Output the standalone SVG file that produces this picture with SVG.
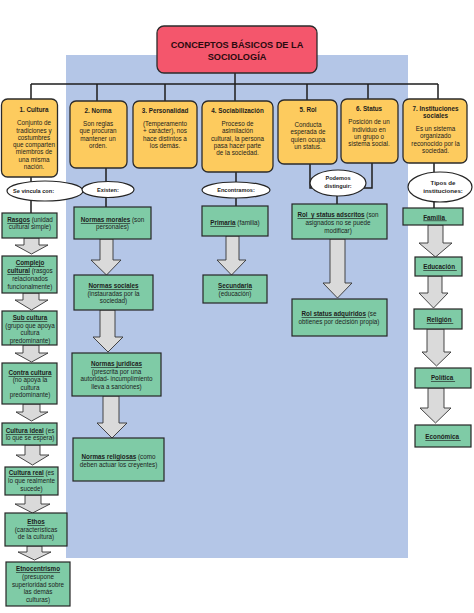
<svg xmlns="http://www.w3.org/2000/svg" width="474" height="613" viewBox="0 0 474 613">
<style>
text{font-family:"Liberation Sans",Arial,sans-serif;fill:#1c1c1c;text-anchor:middle}
.t{font-size:9.2px;font-weight:bold;fill:#2a0a0e}
.h{font-size:6.3px;font-weight:bold}
.b{font-size:6.3px}
.e{font-size:5.6px;font-weight:bold}
.e2{font-size:6.1px;font-weight:bold}
.u{font-weight:bold;text-decoration:underline}
.y{fill:#fdcb5e;stroke:#2b2b2b;stroke-width:1.3}
.g{fill:#7fcba6;stroke:#262626;stroke-width:1.2}
.el{fill:#ffffff;stroke:#262626;stroke-width:1.2}
.ar{fill:#dadada;stroke:#333333;stroke-width:0.9}
.ln{fill:none;stroke:#1e1e1e;stroke-width:1.5}
</style>
<rect x="0" y="0" width="474" height="613" fill="#ffffff"/>
<rect x="66" y="55" width="342" height="503" fill="#b4c6e7"/>

<g id="connectors">
<path class="ln" d="M235,73V84M31,84H438M31,84V99M97,84V101M165,84V101M235,84V101M307,84V100M368,84V99M438,84V99"/>
<path class="ln" d="M31,177V213M106,168V207M236,172V206M310,164V188H372V163M337,196V204M434,163V208"/>
<polygon class="ar" points="24,238 39,238 39,245 48,245 31.5,254 15,245 24,245"/>
<polygon class="ar" points="23,293 39,293 39,300 48,300 31.5,310 15,300 23,300"/>
<polygon class="ar" points="23,345 39,345 39,353 48,353 31.5,362 15,353 23,353"/>
<polygon class="ar" points="23,404 40,404 40,412 48,412 31.5,421 16,412 23,412"/>
<polygon class="ar" points="25,445 40,445 40,455 49,455 32.5,465 16,455 25,455"/>
<polygon class="ar" points="25,495 41,495 41,504 50,504 32.5,513 15,504 25,504"/>
<polygon class="ar" points="27,546 42,546 42,552 51,552 34.5,560 18,552 27,552"/>
<polygon class="ar" points="100,239 113,239 113,260 121,260 106.5,275 91,260 100,260"/>
<polygon class="ar" points="100,310 115,310 115,337 123,337 108,352 93,337 100,337"/>
<polygon class="ar" points="103,396 119,396 119,423 127,423 112,438 97,423 103,423"/>
<polygon class="ar" points="226,236 239,236 239,260 246,260 231.5,275 217,260 226,260"/>
<polygon class="ar" points="330,239 345,239 345,283 352,283 337.5,298 323,283 330,283"/>
<polygon class="ar" points="428,225 443,225 443,243 452,243 435.5,257 419,243 428,243"/>
<polygon class="ar" points="428,276 442,276 442,293 448,293 433.5,308 419,293 428,293"/>
<polygon class="ar" points="427,329 444,329 444,352 451,352 436.5,366 422,352 427,352"/>
<polygon class="ar" points="428,388 444,388 444,408 451,408 435.5,423 420,408 428,408"/>
</g>

<g id="title">
<rect x="157" y="26" width="160" height="47" rx="7" fill="#f4566c" stroke="#2b2b2b" stroke-width="1.3"/>
<text class="t" x="237" y="47.5">CONCEPTOS BÁSICOS DE LA</text>
<text class="t" x="237" y="59.5">SOCIOLOGÍA</text>
</g>

<g id="cultura">
<rect class="y" x="1.5" y="99" width="56" height="78" rx="6"/>
<text class="h" x="34" y="112.2">1. Cultura</text>
<text class="b" x="34" y="125.2">Conjunto de</text>
<text class="b" x="34" y="132.5">tradiciones y</text>
<text class="b" x="34" y="139.8">costumbres</text>
<text class="b" x="34" y="147.1">que comparten</text>
<text class="b" x="34" y="154.4">miembros de</text>
<text class="b" x="34" y="161.7">una misma</text>
<text class="b" x="34" y="169">nación.</text>
</g>
<g id="norma">
<rect class="y" x="70" y="101" width="57" height="67" rx="6"/>
<text class="h" x="98" y="113">2. Norma</text>
<text class="b" x="98" y="126.2">Son reglas</text>
<text class="b" x="98" y="133.4">que procuran</text>
<text class="b" x="98" y="140.6">mantener un</text>
<text class="b" x="98" y="147.8">orden.</text>
</g>
<g id="personalidad">
<rect class="y" x="133" y="101" width="64" height="67" rx="6"/>
<text class="h" x="165" y="113">3. Personalidad</text>
<text class="b" x="165" y="126.2">(Temperamento</text>
<text class="b" x="165" y="133.4">+ carácter), nos</text>
<text class="b" x="165" y="140.6">hace distintos a</text>
<text class="b" x="165" y="147.8">los demás.</text>
</g>
<g id="sociabilizacion">
<rect class="y" x="202" y="101" width="71" height="71" rx="6"/>
<text class="h" x="237.5" y="113">4. Sociabilización</text>
<text class="b" x="237.5" y="126.2">Proceso de</text>
<text class="b" x="237.5" y="133.4">asimilación</text>
<text class="b" x="237.5" y="140.6">cultural, la persona</text>
<text class="b" x="237.5" y="147.8">pasa hacer parte</text>
<text class="b" x="237.5" y="155">de la sociedad.</text>
</g>
<g id="rol">
<rect class="y" x="278" y="100" width="59" height="64" rx="6"/>
<text class="h" x="308" y="112.2">5. Rol</text>
<text class="b" x="308" y="127.2">Conducta</text>
<text class="b" x="308" y="134.4">esperada de</text>
<text class="b" x="308" y="141.6">quien ocupa</text>
<text class="b" x="308" y="148.8">un status.</text>
</g>
<g id="status">
<rect class="y" x="341" y="99" width="57" height="64" rx="6"/>
<text class="h" x="369" y="111.2">6. Status</text>
<text class="b" x="369" y="124.2">Posición de un</text>
<text class="b" x="369" y="131.6">individuo en</text>
<text class="b" x="369" y="139">un grupo o</text>
<text class="b" x="369" y="146.4">sistema social.</text>
</g>
<g id="instituciones">
<rect class="y" x="403" y="99" width="64" height="64" rx="6"/>
<text class="h" x="435.5" y="111.2">7. Instituciones</text>
<text class="h" x="435.5" y="118.4">sociales</text>
<text class="b" x="435.5" y="131.2">Es un sistema</text>
<text class="b" x="435.5" y="138.4">organizado</text>
<text class="b" x="435.5" y="145.6">reconocido por la</text>
<text class="b" x="435.5" y="152.8">sociedad.</text>
</g>

<g id="e-vincula"><ellipse class="el" cx="45" cy="191" rx="38" ry="10"/><text class="e" x="13" y="193" style="text-anchor:start">Se vincula con:</text></g>
<g id="e-existen"><ellipse class="el" cx="108" cy="189.5" rx="26" ry="8"/><text class="e" x="108" y="191.5">Existen:</text></g>
<g id="e-encontramos"><ellipse class="el" cx="236" cy="190" rx="34" ry="8"/><text class="e" x="236" y="192">Encontramos:</text></g>
<g id="e-podemos"><ellipse class="el" cx="338" cy="183" rx="28" ry="13"/><text class="e" x="338" y="180">Podemos</text><text class="e" x="338" y="187.5">distinguir:</text></g>
<g id="e-tipos"><ellipse class="el" cx="440" cy="187" rx="32" ry="15"/><text class="e2" x="443" y="185">Tipos de</text><text class="e2" x="443" y="193">instituciones:</text></g>

<g id="rasgos"><rect class="g" x="2" y="213" width="55" height="25"/>
<text class="b" x="30" y="222.2"><tspan class="u">Rasgos</tspan> (unidad</text>
<text class="b" x="30" y="229.2">cultural simple)</text></g>
<g id="complejo"><rect class="g" x="2" y="256" width="55" height="37"/>
<text class="b" x="30" y="265.2"><tspan class="u">Complejo</tspan></text>
<text class="b" x="30" y="273.2"><tspan class="u">cultural</tspan> (rasgos</text>
<text class="b" x="30" y="281.2">relacionados</text>
<text class="b" x="30" y="289">funcionalmente)</text></g>
<g id="subcultura"><rect class="g" x="2" y="311" width="55" height="34"/>
<text class="b" x="30" y="320"><tspan class="u">Sub cultura</tspan></text>
<text class="b" x="30" y="327.6">(grupo que apoya</text>
<text class="b" x="30" y="335.2">cultura</text>
<text class="b" x="30" y="342.8">predominante)</text></g>
<g id="contracultura"><rect class="g" x="2" y="363" width="55" height="41"/>
<text class="b" x="30" y="375"><tspan class="u">Contra cultura</tspan></text>
<text class="b" x="30" y="382.4">(no apoya la</text>
<text class="b" x="30" y="389.8">cultura</text>
<text class="b" x="30" y="397.2">predominante)</text></g>
<g id="culturaideal"><rect class="g" x="2" y="423" width="55" height="22"/>
<text class="b" x="30" y="433.2"><tspan class="u">Cultura ideal</tspan> (es</text>
<text class="b" x="30" y="440.4">lo que se espera)</text></g>
<g id="culturareal"><rect class="g" x="5" y="467" width="53" height="28"/>
<text class="b" x="31.5" y="475.2"><tspan class="u">Cultura real</tspan> (es</text>
<text class="b" x="31.5" y="483">lo que realmente</text>
<text class="b" x="31.5" y="490.6">sucede)</text></g>
<g id="ethos"><rect class="g" x="5" y="513" width="62" height="33"/>
<text class="b" x="36" y="524.2"><tspan class="u">Ethos</tspan></text>
<text class="b" x="36" y="532">(características</text>
<text class="b" x="36" y="539.4">de la cultura)</text></g>
<g id="etnocentrismo"><rect class="g" x="6" y="562" width="64" height="44"/>
<text class="b" x="38" y="571.2"><tspan class="u">Etnocentrismo</tspan></text>
<text class="b" x="38" y="579">(presupone</text>
<text class="b" x="38" y="586.6">superioridad sobre</text>
<text class="b" x="38" y="594.2">las demás</text>
<text class="b" x="38" y="601.8">culturas)</text></g>

<g id="morales"><rect class="g" x="74" y="207" width="77" height="32"/>
<text class="b" x="112.5" y="222.2"><tspan class="u">Normas morales</tspan> (son</text>
<text class="b" x="112.5" y="229.4">personales)</text></g>
<g id="sociales"><rect class="g" x="74" y="275" width="79" height="35"/>
<text class="b" x="113.5" y="288.2"><tspan class="u">Normas sociales</tspan></text>
<text class="b" x="113.5" y="295.6">(instauradas por la</text>
<text class="b" x="113.5" y="303">sociedad)</text></g>
<g id="juridicas"><rect class="g" x="72" y="353" width="89" height="43"/>
<text class="b" x="116.5" y="366.2"><tspan class="u">Normas juridicas</tspan></text>
<text class="b" x="116.5" y="373.8">(prescrita por una</text>
<text class="b" x="116.5" y="381.4">autoridad- incumplimiento</text>
<text class="b" x="116.5" y="389">lleva a sanciones)</text></g>
<g id="religiosas"><rect class="g" x="73" y="438" width="91" height="43"/>
<text class="b" x="118.5" y="459"><tspan class="u">Normas religiosas</tspan> (como</text>
<text class="b" x="118.5" y="466.6">deben actuar los creyentes)</text></g>

<g id="primaria"><rect class="g" x="202" y="206" width="66" height="30"/>
<text class="b" x="235" y="225.2"><tspan class="u">Primaria</tspan> (familia)</text></g>
<g id="secundaria"><rect class="g" x="203" y="275" width="64" height="28"/>
<text class="b" x="235" y="288.2"><tspan class="u">Secundaria</tspan></text>
<text class="b" x="235" y="296.2">(educación)</text></g>

<g id="adscritos"><rect class="g" x="292" y="204" width="95" height="35"/>
<text class="b" x="338" y="217.2" xml:space="preserve"><tspan class="u">Rol  y status adscritos</tspan> (son</text>
<text class="b" x="338" y="225">asignados no se puede</text>
<text class="b" x="338" y="232.6">modificar)</text></g>
<g id="adquiridos"><rect class="g" x="292" y="299" width="95" height="37"/>
<text class="b" x="339" y="316.2"><tspan class="u">Rol status adquiridos</tspan> (se</text>
<text class="b" x="339" y="324.2">obtienes por decisión propia)</text></g>

<g id="familia"><rect class="g" x="403" y="208" width="60" height="17"/>
<text class="b" x="435" y="219.5"><tspan class="u">Familia&#160;</tspan></text></g>
<g id="educacion"><rect class="g" x="415" y="257" width="47" height="19"/>
<text class="b" x="440" y="269"><tspan class="u">Educación&#160;</tspan></text></g>
<g id="religion"><rect class="g" x="414" y="309" width="48" height="20"/>
<text class="b" x="440" y="322"><tspan class="u">Religión&#160;</tspan></text></g>
<g id="politica"><rect class="g" x="415" y="368" width="56" height="20"/>
<text class="b" x="443" y="380.2"><tspan class="u">Política&#160;</tspan></text></g>
<g id="economica"><rect class="g" x="415" y="425" width="56" height="22"/>
<text class="b" x="443" y="439"><tspan class="u">Económica&#160;</tspan></text></g>
</svg>
